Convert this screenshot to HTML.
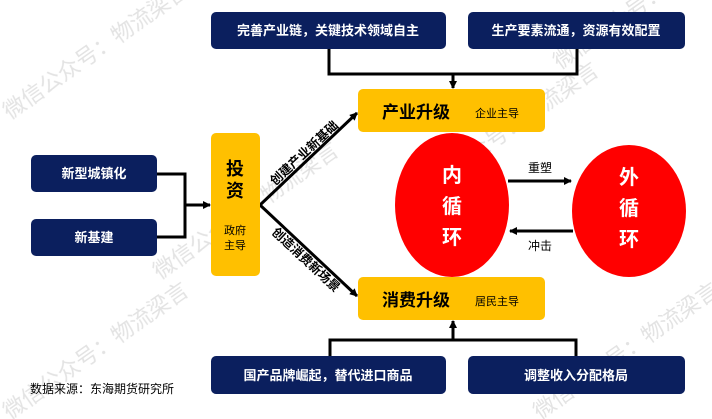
<!DOCTYPE html>
<html><head><meta charset="utf-8"><style>
html,body{margin:0;padding:0;background:#fff}
svg{display:block}
text{font-family:"Liberation Sans","Noto Sans CJK SC",sans-serif}
</style></head><body>
<svg width="712" height="419" viewBox="0 0 712 419" xmlns="http://www.w3.org/2000/svg">
<defs>
<marker id="a" markerWidth="8" markerHeight="8" refX="7" refY="4" orient="auto" markerUnits="userSpaceOnUse"><path d="M0,0 L8,4 L0,8 z" fill="#000"/></marker>
</defs>
<g fill="#d0d0d0" font-size="22" opacity="0.6">
<text transform="translate(10,120) rotate(-35)">微信公众号：物流梁言</text>
<text transform="translate(160,280) rotate(-35)">微信公众号：物流梁言</text>
<text transform="translate(420,200) rotate(-35)">微信公众号：物流梁言</text>
<text transform="translate(540,420) rotate(-35)">微信公众号：物流梁言</text>
<text transform="translate(10,420) rotate(-35)">微信公众号：物流梁言</text>
<text transform="translate(560,70) rotate(-35)">微信公众号：物流梁言</text>
</g>
<g stroke="#000" stroke-width="3" fill="none">
<polyline points="329,49 329,74 577,74 577,49"/>
<line x1="453" y1="74" x2="453" y2="88" marker-end="url(#a)"/>
<polyline points="157,174 185,174 185,237 157,237"/>
<line x1="185" y1="205" x2="210" y2="205" marker-end="url(#a)"/>
<polyline points="330,356 330,340 576,340 576,356"/>
<line x1="453" y1="340" x2="453" y2="321" marker-end="url(#a)"/>
<line x1="260" y1="205" x2="357" y2="113" marker-end="url(#a)"/>
<line x1="260" y1="205" x2="357" y2="296" marker-end="url(#a)"/>
<line x1="508" y1="181" x2="571" y2="181" marker-end="url(#a)"/>
<line x1="573" y1="231" x2="510" y2="231" marker-end="url(#a)"/>
</g>
<g fill="#0b1f5e">
<rect x="211" y="12" width="235" height="37" rx="5"/>
<rect x="468" y="12" width="217" height="37" rx="5"/>
<rect x="31" y="155" width="126" height="37" rx="5"/>
<rect x="31" y="219" width="126" height="37" rx="5"/>
<rect x="211" y="356" width="235" height="38" rx="5"/>
<rect x="468" y="356" width="217" height="38" rx="5"/>
</g>
<g fill="#fff" font-size="13" font-weight="bold" text-anchor="middle">
<text x="328" y="35">完善产业链，关键技术领域自主</text>
<text x="576" y="35">生产要素流通，资源有效配置</text>
<text x="94" y="178">新型城镇化</text>
<text x="94" y="242">新基建</text>
<text x="328" y="380">国产品牌崛起，替代进口商品</text>
<text x="576" y="380">调整收入分配格局</text>
</g>
<g fill="#ffc000">
<rect x="358" y="89" width="187" height="43" rx="5"/>
<rect x="358" y="277" width="187" height="43" rx="5"/>
<rect x="211" y="133" width="49" height="143" rx="5"/>
</g>
<g fill="#000">
<text x="382" y="118" font-size="17" font-weight="bold">产业升级</text>
<text x="475" y="117" font-size="11">企业主导</text>
<text x="382" y="306" font-size="17" font-weight="bold">消费升级</text>
<text x="475" y="305" font-size="11">居民主导</text>
<text x="235" y="175" font-size="18" font-weight="bold" text-anchor="middle">投</text>
<text x="235" y="197" font-size="18" font-weight="bold" text-anchor="middle">资</text>
<text x="235" y="234" font-size="11" text-anchor="middle">政府</text>
<text x="235" y="249" font-size="11" text-anchor="middle">主导</text>
<text transform="translate(275,186) rotate(-43)" font-size="12.5" font-weight="bold">创建产业新基础</text>
<text transform="translate(271,233) rotate(43)" font-size="12.5" font-weight="bold">创造消费新场景</text>
<text x="540" y="172" font-size="12" text-anchor="middle">重塑</text>
<text x="540" y="250" font-size="12" text-anchor="middle">冲击</text>
<text x="30" y="393" font-size="12">数据来源：东海期货研究所</text>
</g>
<ellipse cx="452" cy="205" rx="57" ry="72" fill="#ff0000"/>
<ellipse cx="629" cy="211" rx="57" ry="66" fill="#ff0000"/>
<g fill="#fff" font-size="20" font-weight="bold" text-anchor="middle">
<text x="452" y="182">内</text>
<text x="452" y="213">循</text>
<text x="452" y="244">环</text>
<text x="629" y="184">外</text>
<text x="629" y="215">循</text>
<text x="629" y="246">环</text>
</g>
</svg>
</body></html>
